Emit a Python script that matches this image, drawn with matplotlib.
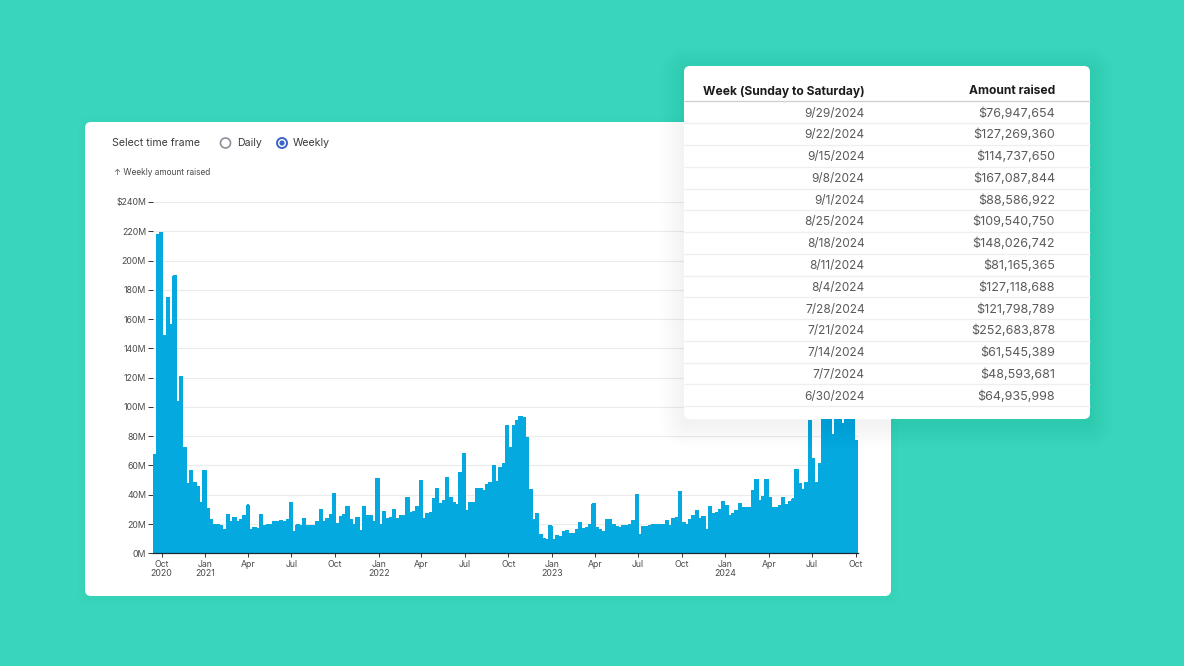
import matplotlib
matplotlib.use("Agg")
import matplotlib.pyplot as plt
import matplotlib.dates as mdates
from matplotlib.patches import FancyBboxPatch, Circle
import numpy as np
import pandas as pd

FONT = ['Inter', 'DejaVu Sans']
plt.rcParams['font.family'] = FONT

weekly_early_millions = [
    67.4, 218, 219.5, 149, 175, 156, 189.5, 104, 120.5, 72, 47.4, 56.7, 48.3, 45.8, 34.6, 56.5,
    30.5, 23, 19.4, 19.4, 18.7, 16.4, 26.7, 22, 24.4, 22, 23, 26, 33, 16.2, 17.8, 17, 26.4, 18.7,
    19.6, 19.6, 21.6, 22, 22.5, 22, 23, 35, 14.8, 20, 19, 24, 19, 18.9, 18.9, 22, 30, 21.4, 23.5,
    26.7, 41, 20.5, 25.3, 26.4, 32, 22.8, 19.6, 24.6, 15.5, 32, 25.5, 26, 22, 51.3, 19.8, 28.5,
    24, 24.8, 29.8, 24, 25.7, 25.7, 38.3, 27.6, 28.7, 32, 50, 23.5, 27.3, 28.2, 37.6, 44.2, 34,
    36.4, 52, 38, 34.4, 33, 55, 68, 29.4, 34.6, 34.4, 44.2, 44, 42.8, 46.7, 48.5, 59.7, 49.2,
    58.3, 61.5, 87, 72.4, 87.5, 91, 93.8, 92.7, 79, 43.3, 22.8, 26.9, 13, 10.3, 9.3, 18.7, 9.3,
    12.5, 11.2, 15, 15.3, 13.7, 13.7, 16, 21.2, 16.9, 17.3, 19.8, 33.7, 17.3, 16, 15, 22.8, 23.2,
    19.4, 18.5, 17.8, 19.1, 19.1, 19.4, 22.3, 39.9, 13, 18, 18, 19, 19.8, 19.8, 19.6, 19.4, 22.3,
    19, 24.1, 24.8, 41.9, 21.2, 19.6, 22.8, 25.7, 29.5, 23.9, 25.3, 16.2, 31.7, 27.3, 28, 29.8,
    35.5, 32.6, 25.7, 26.9, 29.4, 33.9, 31.2, 31, 31, 42.6, 50.6, 36.4, 38.5, 50.3, 38.3, 31.4,
    31.2, 32.8, 38.3, 33.5, 35.5, 37.1, 57, 47.6, 43.3, 48.5, 90.7,
]
table_weeks = ['9/29/2024', '9/22/2024', '9/15/2024', '9/8/2024', '9/1/2024', '8/25/2024', '8/18/2024',
               '8/11/2024', '8/4/2024', '7/28/2024', '7/21/2024', '7/14/2024', '7/7/2024', '6/30/2024']
table_amounts = [76947654, 127269360, 114737650, 167087844, 88586922, 109540750, 148026742,
                 81165365, 127118688, 121798789, 252683878, 61545389, 48593681, 64935998]
y_ticks = [0, 20, 40, 60, 80, 100, 120, 140, 160, 180, 200, 220, 240]
x_tick_dates = ['2020-10-01', '2021-01-01', '2021-04-01', '2021-07-01', '2021-10-01', '2022-01-01',
                '2022-04-01', '2022-07-01', '2022-10-01', '2023-01-01', '2023-04-01', '2023-07-01',
                '2023-10-01', '2024-01-01', '2024-04-01', '2024-07-01', '2024-10-01']
x_tick_labels = ['Oct\n2020', 'Jan\n2021', 'Apr', 'Jul', 'Oct', 'Jan\n2022', 'Apr', 'Jul', 'Oct',
                 'Jan\n2023', 'Apr', 'Jul', 'Oct', 'Jan\n2024', 'Apr', 'Jul', 'Oct']

values = np.array(weekly_early_millions + [a / 1e6 for a in table_amounts[::-1]])
weeks = pd.date_range(end='2024-09-29', periods=len(values), freq='7D')

W, H = 1184, 666
BG = '#3AD6BC'
fig = plt.figure(figsize=(W / 100, H / 100), dpi=100, facecolor=BG)


def pixel_axes(z):
    a = fig.add_axes([0, 0, 1, 1], zorder=z)
    a.set_xlim(0, W)
    a.set_ylim(H, 0)
    a.axis('off')
    a.patch.set_alpha(0)
    return a


def card(a, x0, y0, x1, y1, r=6, **kw):
    a.add_patch(FancyBboxPatch((x0 + r, y0 + r), x1 - x0 - 2 * r, y1 - y0 - 2 * r,
                               boxstyle=f'round,pad={r},rounding_size={r}', linewidth=0, **kw))


def shadow(a, x0, y0, x1, y1, spread, alpha, dy=4):
    for s in range(spread, 0, -2):
        card(a, x0 - s, y0 - s + dy, x1 + s, y1 + s + dy, r=6 + s, facecolor='black', alpha=alpha)


# Chart card
back = pixel_axes(0)
shadow(back, 85, 122, 891, 596, 8, 0.004, dy=2)
card(back, 85, 122, 891, 596, facecolor='white')
back.text(112, 143, 'Select time frame', fontsize=7.6, color='#3a3a3a', va='center', ha='left')
back.add_patch(Circle((225.5, 143), 5, facecolor='white', edgecolor='#8f8f9a', linewidth=1.2))
back.text(237, 142.5, 'Daily', fontsize=7.6, color='#3a3a3a', va='center', ha='left')
back.add_patch(Circle((282, 143), 5, facecolor='white', edgecolor='#3C63C9', linewidth=1.4))
back.add_patch(Circle((282, 143), 2.6, facecolor='#3C63C9', linewidth=0))
back.text(293, 142.5, 'Weekly', fontsize=7.6, color='#3a3a3a', va='center', ha='left')
back.text(114, 172.5, '↑ Weekly amount raised', fontsize=6.0, color='#4a4a4a', va='center', ha='left')

# Bars
ax = fig.add_axes([153 / W, 1 - 553.3 / H, 705 / W, 351.3 / H], zorder=1)
ax.patch.set_alpha(0)
bars = ax.bar(weeks, values, width=7, align='edge', color='#04A9E0', linewidth=0,
              clip_on=False, zorder=3)
for b in bars:
    b.set_snap(False)
    b.set_antialiased(False)
ax.set_xlim(weeks[0], weeks[-1] + pd.Timedelta(days=7))
ax.set_ylim(0, 240)
ax.set_yticks(y_ticks)
ax.set_yticklabels([f'${v}M' if v == 240 else f'{v}M' for v in y_ticks])
ax.set_xticks(mdates.date2num(pd.to_datetime(x_tick_dates)))
ax.set_xticklabels(x_tick_labels, linespacing=1.05)
ax.tick_params(axis='y', length=3.4, width=0.7, color='#333333', labelcolor='#4a4a4a', labelsize=6.3, pad=1.6)
ax.tick_params(axis='x', length=3.2, width=0.7, color='#333333', labelcolor='#4a4a4a', labelsize=6.3, pad=1.6)
ax.grid(axis='y', color='#EBEBEB', linewidth=0.8, zorder=0)
ax.set_axisbelow(True)
for side in ('left', 'right', 'top'):
    ax.spines[side].set_visible(False)
ax.spines['bottom'].set_color('#1a2a33')
ax.spines['bottom'].set_linewidth(0.9)
ax.spines['bottom'].set_zorder(4)

# Table card
top = pixel_axes(2)
shadow(top, 684, 66, 1090, 419, 24, 0.0035, dy=5)
card(top, 684, 66, 1090, 419, facecolor='white')
top.text(864.5, 94.5, 'Week (Sunday to Saturday)', fontsize=8.65, fontweight='bold', color='#1c1c1c',
         ha='right', va='baseline')
top.text(1055, 94.5, 'Amount raised', fontsize=8.65, fontweight='bold', color='#1c1c1c',
         ha='right', va='baseline')
top.plot([684, 1090], [100.5, 100.5], color='#CFCFCF', linewidth=0.9, solid_capstyle='butt')
for i, (wk, amt) in enumerate(zip(table_weeks, table_amounts)):
    y = 112.3 + i * 21.77
    top.text(864.5, y + 4.3, wk, fontsize=8.55, color='#5a5a5a', ha='right', va='baseline')
    top.text(1055, y + 4.3, f'${amt:,}', fontsize=9, color='#5a5a5a', ha='right', va='baseline')
    top.plot([684, 1090], [y + 10.9, y + 10.9], color='#EFEFEF', linewidth=0.9, solid_capstyle='butt')

fig.savefig('out.png', dpi=100, facecolor=BG)
